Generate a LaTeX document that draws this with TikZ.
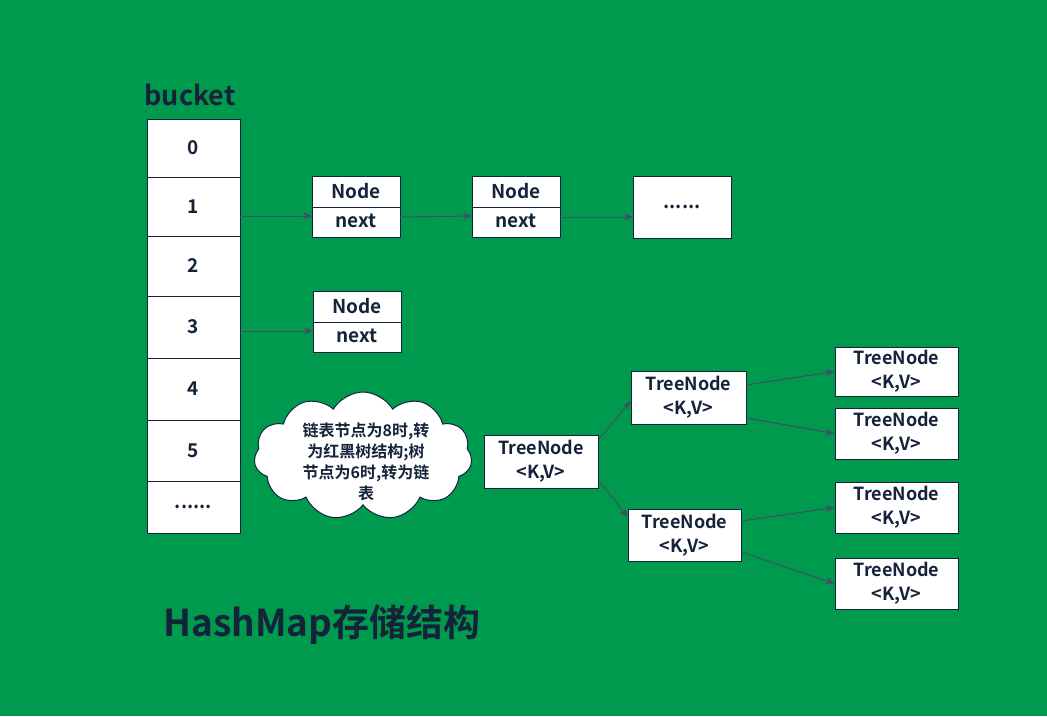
\documentclass[tikz,border=0pt]{standalone}
\usepackage{fontspec}
\setmainfont{Noto Sans CJK SC}[BoldFont={* Bold}]
\usetikzlibrary{shapes.symbols,arrows.meta}
\definecolor{bg}{HTML}{009A4E}
\definecolor{ink}{HTML}{14233A}
\begin{document}
\begin{tikzpicture}[x=1pt,y=-1pt,
  box/.style={draw=ink,fill=white,line width=1pt},
  lbl/.style={text=ink,font=\bfseries\fontsize{19}{22}\selectfont},
  arr/.style={draw=ink!80,line width=1pt,-{Stealth[length=9pt,width=7pt]}}]
\fill[bg] (0,0) rectangle (1047,716);
\useasboundingbox (0,0) rectangle (1047,716);
\node[lbl,font=\bfseries\fontsize{27}{30}\selectfont] (bk) at (190,95) {bucket};
\foreach \a/\b/\t [count=\i] in {119/177/0,177/236/1,236/296/2,296/358/3,358/420/4,420/481/5,481/533/{......}}{
  \draw[box] (147,\a) rectangle (240,\b);
  \node[lbl] (b\i) at (193.5,{(\a+\b)/2}) {\t};
}
% node boxes
\foreach \n/\x/\y/\w in {n1/312/176/88,n2/472/176/88,n3/313/291/88}{
  \draw[box] (\x,\y) rectangle ++(\w,61);
  \draw[ink,line width=1pt] (\x,\y+31) -- ++(\w,0);
  \node[lbl] (\n t) at (\x+\w/2,\y+15) {Node};
  \node[lbl] (\n b) at (\x+\w/2,\y+45) {next};
  \coordinate (\n w) at (\x,\y+40);
  \coordinate (\n e) at (\x+\w,\y+41);
}
\draw[box] (633,176) rectangle (731,238);
\node[lbl] (dots) at (682,207) {......};
\coordinate (b2e) at (240,216);
\coordinate (b4e) at (240,331);
\draw[arr] (b2e) -- (n1w);
\draw[arr] (n1e) -- (n2w);
\draw[arr] (n2e) -- (633,217);
\draw[arr] (b4e) -- (n3w);
% tree nodes
\tikzset{tn/.style={box,lbl,align=center,inner sep=2pt,font=\bfseries\fontsize{18}{24}\selectfont}}
\node[tn,minimum width=114pt,minimum height=53pt] (r) at (541,461.5) {TreeNode\\<K,V>};
\node[tn,minimum width=115pt,minimum height=53pt] (A) at (688.5,397.5) {TreeNode\\<K,V>};
\node[tn,minimum width=113pt,minimum height=52pt] (B) at (684.5,535) {TreeNode\\<K,V>};
\node[tn,minimum width=123pt,minimum height=49pt] (L1) at (896.5,371.5) {TreeNode\\<K,V>};
\node[tn,minimum width=123pt,minimum height=51pt] (L2) at (896.5,433.5) {TreeNode\\<K,V>};
\node[tn,minimum width=123pt,minimum height=51pt] (L3) at (896.5,507.5) {TreeNode\\<K,V>};
\node[tn,minimum width=123pt,minimum height=51pt] (L4) at (896.5,583.5) {TreeNode\\<K,V>};
\draw[arr] (r.east|-0,440) -- (A.west|-0,401);
\draw[arr] (r.east|-0,480) -- (B.west|-0,517);
\draw[arr] (A.east|-0,385) -- (L1.west);
\draw[arr] (A.east|-0,418) -- (L2.west);
\draw[arr] (B.east|-0,521) -- (L3.west);
\draw[arr] (B.east|-0,552) -- (L4.west);
\node[cloud,cloud puffs=11,cloud puff arc=120,aspect=1.7,draw=ink,fill=white,line width=1pt,
  minimum width=218pt,minimum height=128pt,inner sep=0pt] (cl) at (363,456) {};
\node[lbl,align=center,font=\bfseries\fontsize{16}{21}\selectfont] (ct) at (366,462) {链表节点为8时,转\\为红黑树结构;树\\节点为6时,转为链\\表};
\node[lbl,font=\bfseries\fontsize{37}{40}\selectfont] (title) at (322,625) {HashMap存储结构};
\end{tikzpicture}
\end{document}
